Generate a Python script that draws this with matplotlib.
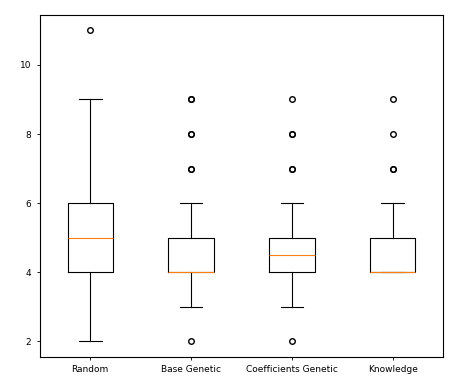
import matplotlib
matplotlib.use("Agg")
from matplotlib import pyplot as plt

labels = ["Random", "Base Genetic", "Coefficients Genetic", "Knowledge"]
whislo = [2, 3, 3, 4]
q1 = [4, 4, 4, 4]
med = [5, 4, 4.5, 4]
q3 = [6, 5, 5, 5]
whishi = [9, 6, 6, 6]
fliers = [[11], [2, 7, 7, 8, 8, 9, 9], [2, 7, 7, 8, 8, 9], [7, 7, 8, 9]]

stats = []
for i, name in enumerate(labels):
    stats.append({"label": name, "whislo": whislo[i], "q1": q1[i], "med": med[i],
                  "q3": q3[i], "whishi": whishi[i], "fliers": fliers[i]})

fig = plt.figure(figsize=(4.74, 3.9), dpi=100)
ax = fig.add_axes([0.084, 0.085, 0.851, 0.877])
lw = 0.8
ax.bxp(stats,
       boxprops={"linewidth": lw},
       whiskerprops={"linewidth": lw},
       capprops={"linewidth": lw},
       medianprops={"linewidth": lw, "color": "#ff7f0e"},
       flierprops={"markersize": 4, "markeredgewidth": 1.0})
ax.tick_params(labelsize=6.5, width=0.6, length=2.5)
for s in ax.spines.values():
    s.set_linewidth(0.8)

fig.savefig("out.png", dpi=100)
